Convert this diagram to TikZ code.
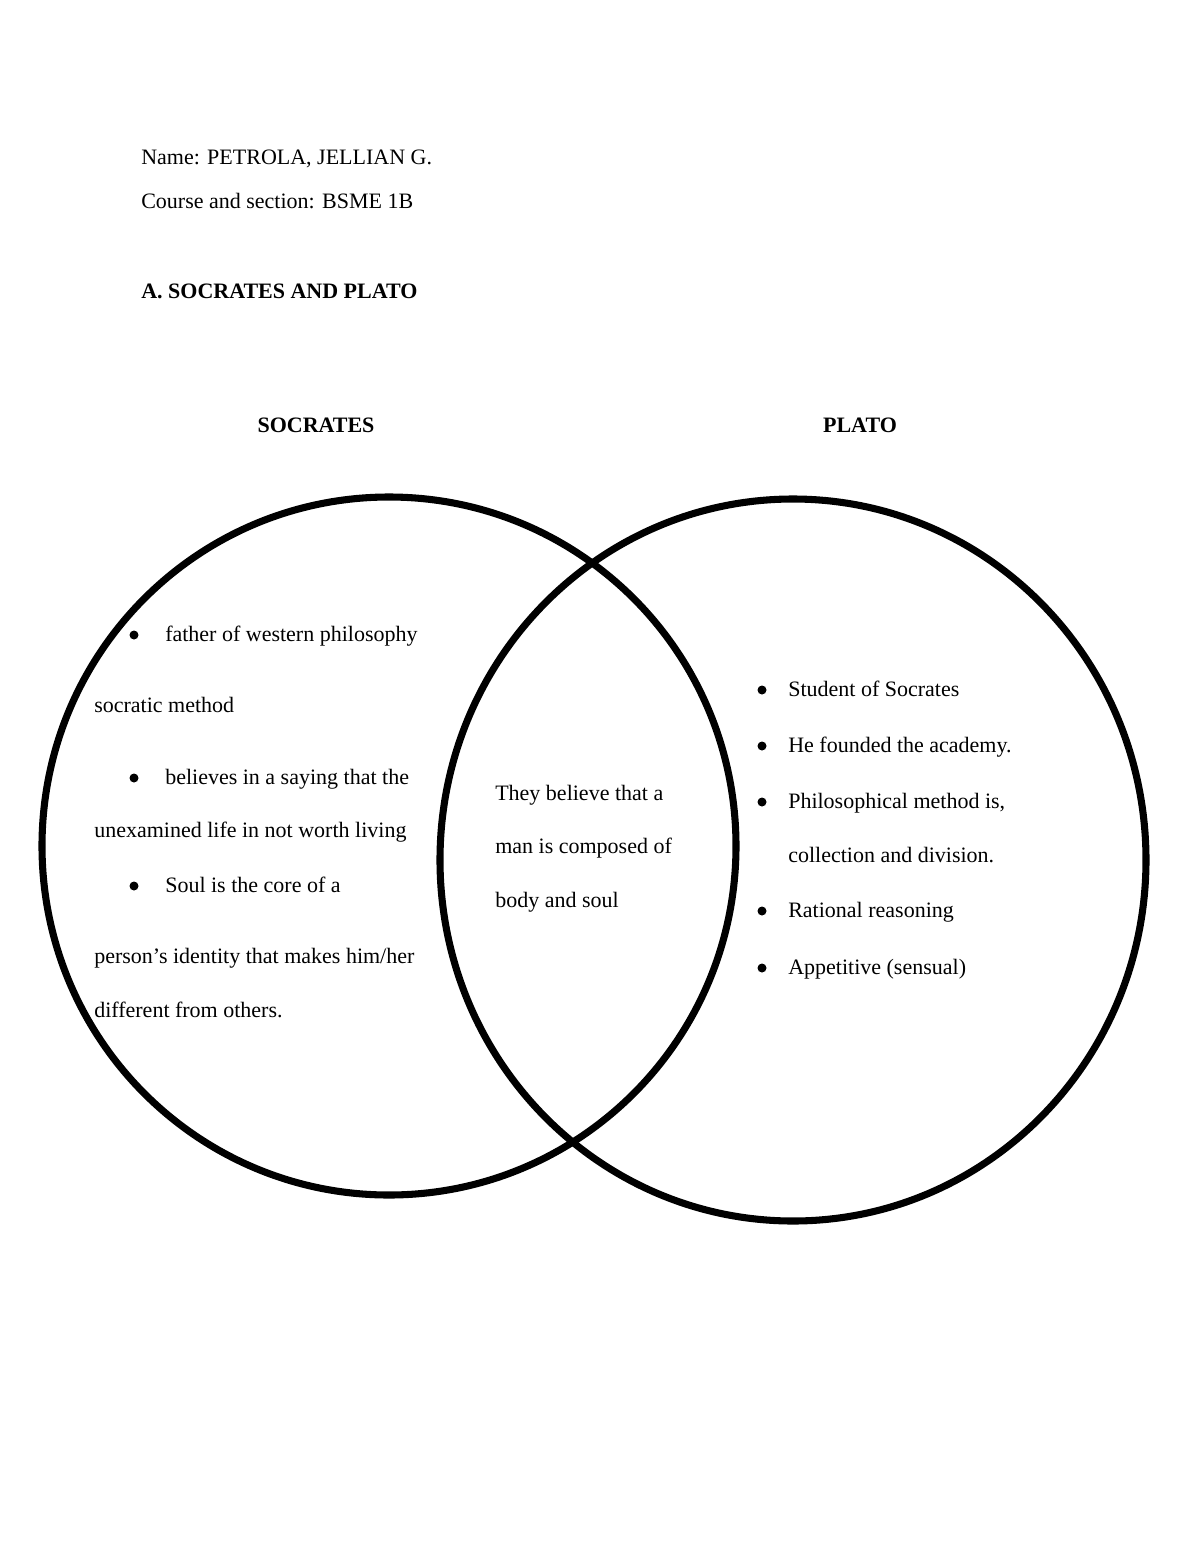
\documentclass[tikz,border=0pt]{standalone}
\usepackage{fontspec}
\setmainfont{Liberation Serif}
\begin{document}
\begin{tikzpicture}[x=0.75pt,y=-0.75pt,
  txt/.style={anchor=base west,inner sep=0pt,font=\fontsize{16.5}{19}\selectfont},
  hd/.style={anchor=base,inner sep=0pt,font=\fontsize{16.5}{19}\selectfont\bfseries},
  ring/.style={line width=5.3pt},
  dot/.style={fill=black}]
\useasboundingbox (0,0) rectangle (1200,1553);
\node[txt] (n1) at (141,164) {Name: PETROLA, JELLIAN G.};
\node[txt] (n2) at (141,208) {Course and section: BSME 1B};
\node[txt,font=\fontsize{16.5}{19}\selectfont\bfseries] (n3) at (141,298) {A. SOCRATES AND PLATO};
\node[hd] (hs) at (316,432) {SOCRATES};
\node[hd] (hp) at (860,432) {PLATO};
\draw[ring] (389,846) ellipse [x radius=347, y radius=349];
\draw[ring] (793,860) ellipse [x radius=353, y radius=361];
% left
\foreach \y in {635,778,886} \fill[dot] (134,\y) circle (4.5);
\node[txt] (l1) at (165,641) {father of western philosophy};
\node[txt] (l2) at (94,712) {socratic method};
\node[txt] (l3) at (165,784) {believes in a saying that the};
\node[txt] (l4) at (94,837) {unexamined life in not worth living};
\node[txt] (l5) at (165,892) {Soul is the core of a};
\node[txt] (l6) at (94,963) {person’s identity that makes him/her};
\node[txt] (l7) at (94,1017) {different from others.};
% center
\node[txt] (c1) at (495,800) {They believe that a};
\node[txt] (c2) at (495,853) {man is composed of};
\node[txt] (c3) at (495,907) {body and soul};
% right
\foreach \y in {690,746,802,911,968} \fill[dot] (762,\y) circle (4.5);
\node[txt] (r1) at (788,696) {Student of Socrates};
\node[txt] (r2) at (788,752) {He founded the academy.};
\node[txt] (r3) at (788,808) {Philosophical method is,};
\node[txt] (r4) at (788,862) {collection and division.};
\node[txt] (r5) at (788,917) {Rational reasoning};
\node[txt] (r6) at (788,974) {Appetitive (sensual)};
\end{tikzpicture}
\end{document}
